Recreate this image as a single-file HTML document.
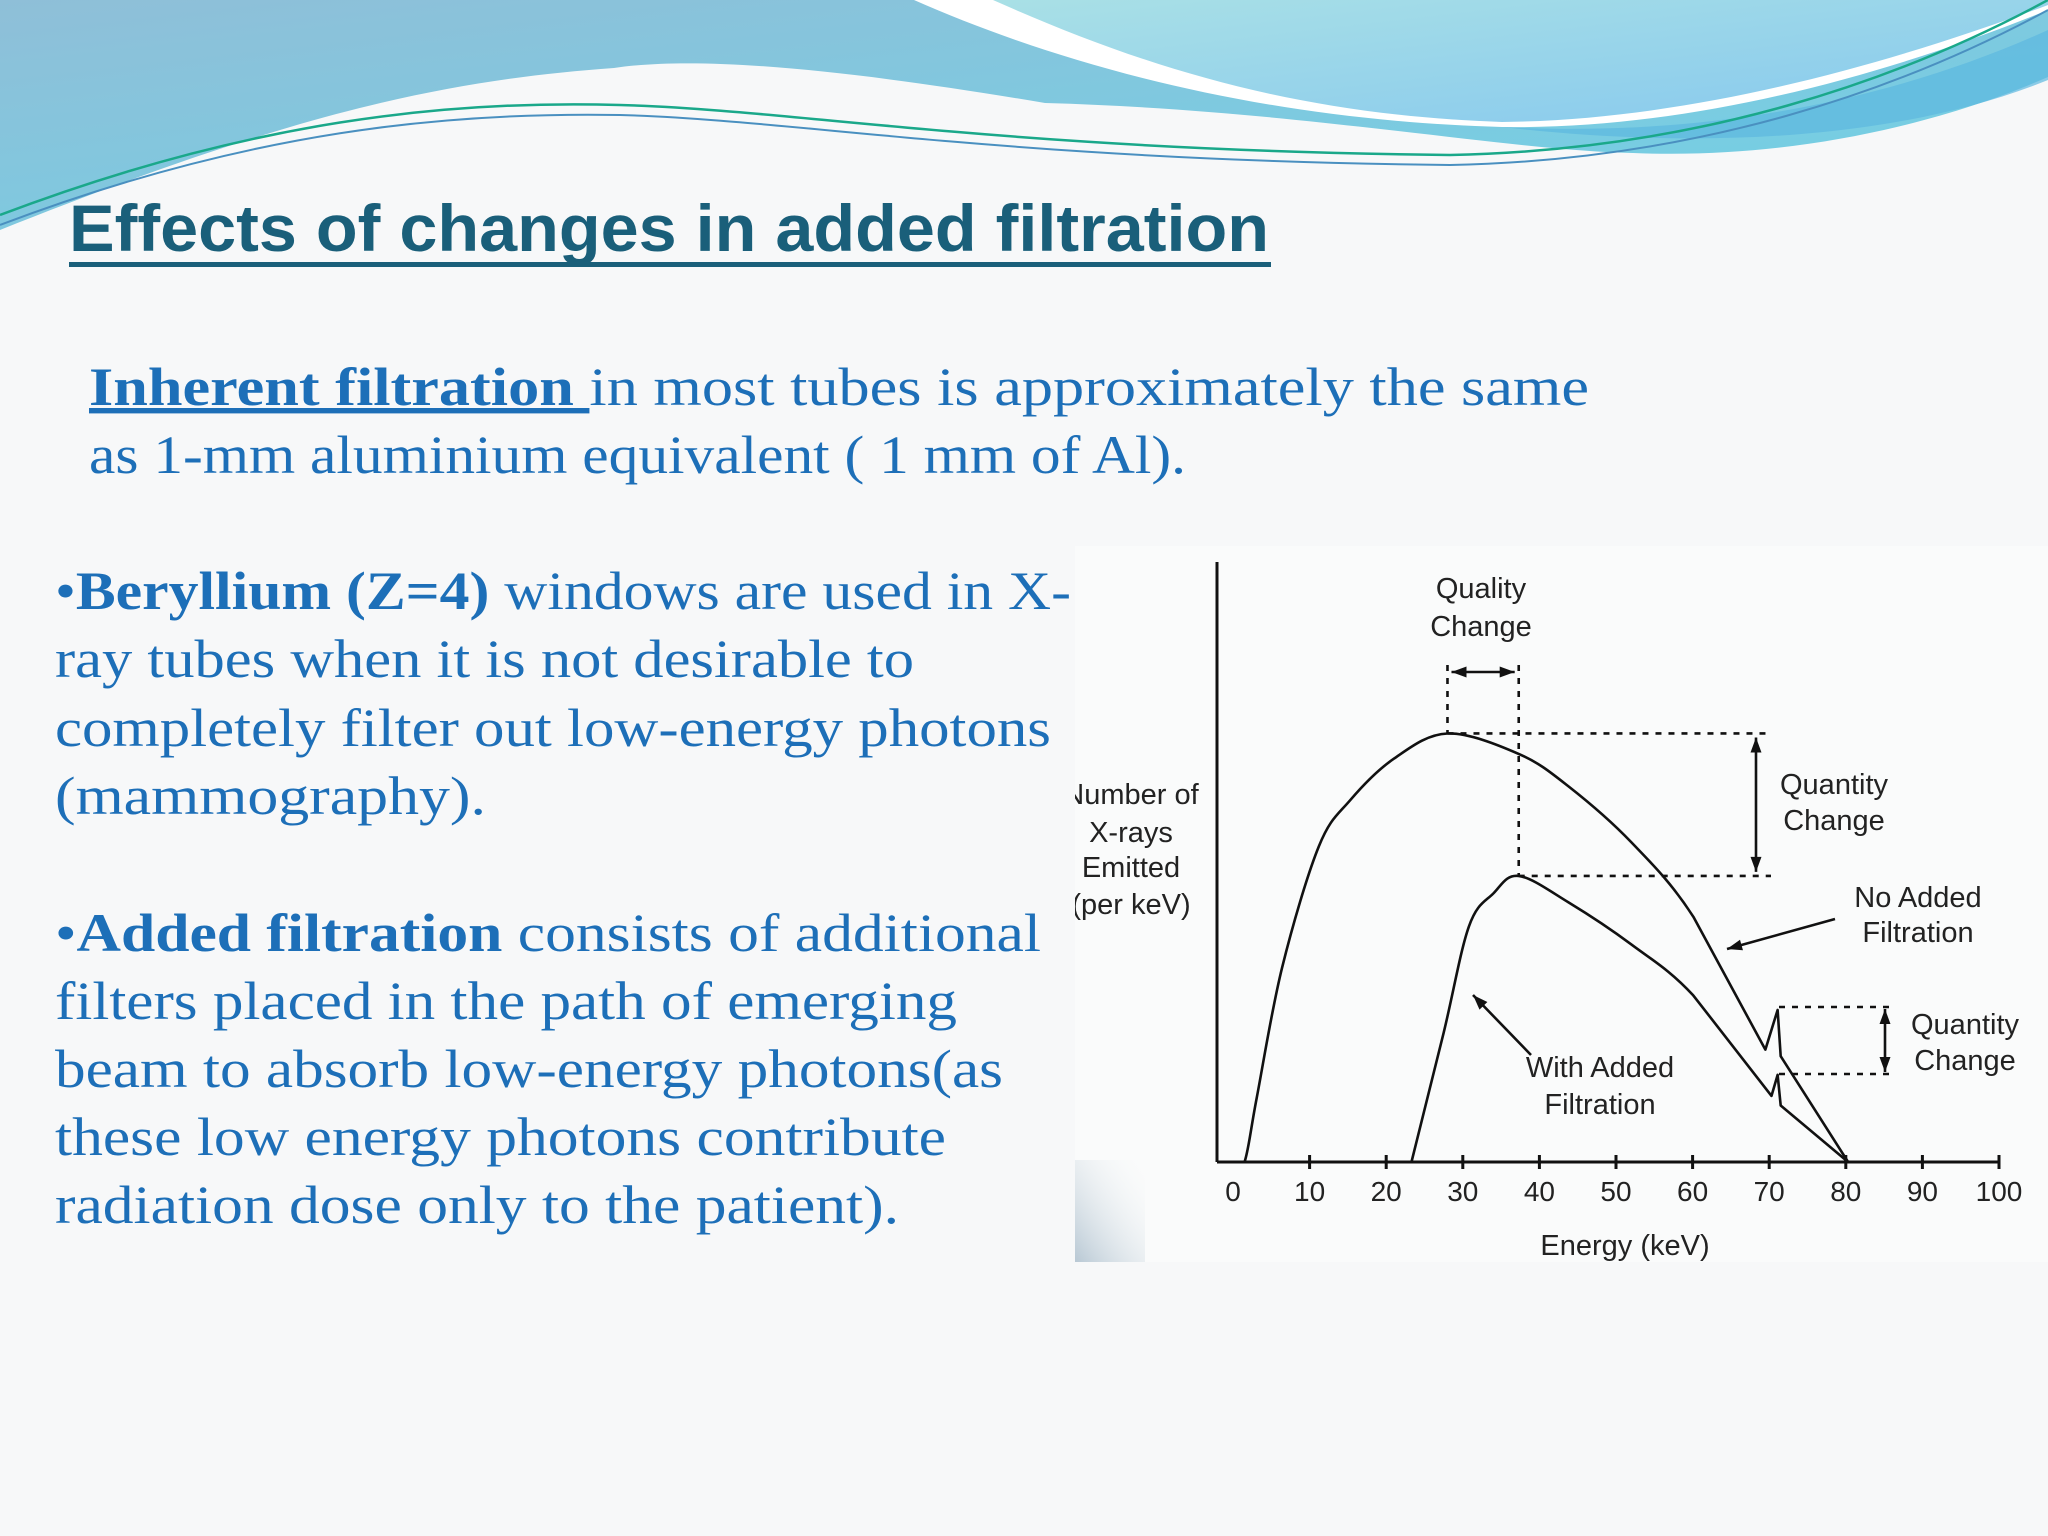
<!DOCTYPE html>
<html><head><meta charset="utf-8"><style>
html,body{margin:0;padding:0;background:#f7f8f9;}
svg{display:block}
</style></head><body>
<svg id="page" width="2048" height="1536" viewBox="0 0 2048 1536" xmlns="http://www.w3.org/2000/svg">
<defs>
<linearGradient id="bandA" x1="0" y1="0" x2="1" y2="1"><stop offset="0" stop-color="#8fbfd8"/><stop offset="1" stop-color="#6fd2e6"/></linearGradient>
<linearGradient id="bandB" x1="0" y1="0" x2="1" y2="1"><stop offset="0" stop-color="#a9e0e6"/><stop offset="1" stop-color="#86c8ee"/></linearGradient>
<linearGradient id="corner" x1="0" y1="1" x2="1" y2="0"><stop offset="0" stop-color="#b8c8d4"/><stop offset="1" stop-color="#fafbfb" stop-opacity="0"/></linearGradient>
<clipPath id="chartClip"><rect x="1075" y="546" width="973" height="716"/></clipPath>
</defs>
<rect width="2048" height="1536" fill="#f7f8f9"/>
<g>
<path d="M0,0 L2048,0 L2048,77 C1950,120 1800,160 1633,153 C1500,150 1300,110 1045,103 C850,70 700,55 614,68 C450,80 300,110 0,230 Z" fill="url(#bandA)"/>
<path d="M914,0 C1050,60 1250,120 1502,127 C1700,130 1900,70 2048,10 L2048,0 Z" fill="#ffffff"/>
<path d="M993,0 C1150,70 1300,115 1502,122 C1700,120 1900,60 2048,5 L2048,0 Z" fill="url(#bandB)"/>
<path d="M1502,127 C1650,135 1850,120 2048,30 L2048,80 C1900,140 1700,150 1502,127 Z" fill="#5cb8e0" opacity="0.7"/>
<path d="M0,215 C250,120 450,100 620,105 C800,110 1000,150 1450,155 C1700,150 1900,80 2048,0" fill="none" stroke="#1aa88a" stroke-width="2.5"/>
<path d="M0,225 C250,130 450,112 620,115 C800,120 1000,160 1450,165 C1700,160 1900,90 2048,10" fill="none" stroke="#4a90c0" stroke-width="2"/>
</g>
<text x="69" y="251" font-family="Liberation Sans, sans-serif" font-weight="bold" font-size="66" fill="#1a5f7a" textLength="1200" lengthAdjust="spacingAndGlyphs">Effects of changes in added filtration</text>
<rect x="69" y="262" width="1202" height="5" fill="#1a5f7a"/>
<g font-family="Liberation Serif, serif" font-size="54" fill="#1d6fb8">
<text x="89" y="405" textLength="1500" lengthAdjust="spacingAndGlyphs"><tspan font-weight="bold" text-decoration="underline">Inherent filtration  </tspan>in most tubes is approximately the same</text>
<text x="89" y="473" textLength="1097" lengthAdjust="spacingAndGlyphs">as 1-mm aluminium equivalent ( 1 mm of Al).</text>
<text x="55" y="609" textLength="1016" lengthAdjust="spacingAndGlyphs">•<tspan font-weight="bold">Beryllium (Z=4)</tspan> windows are used in X-</text>
<text x="55" y="677" textLength="859" lengthAdjust="spacingAndGlyphs">ray tubes when it is not desirable to</text>
<text x="55" y="746" textLength="996" lengthAdjust="spacingAndGlyphs">completely filter out low-energy photons</text>
<text x="55" y="814" textLength="431" lengthAdjust="spacingAndGlyphs">(mammography).</text>
<text x="55" y="951" textLength="986" lengthAdjust="spacingAndGlyphs">•<tspan font-weight="bold">Added filtration</tspan> consists of additional</text>
<text x="55" y="1019" textLength="902" lengthAdjust="spacingAndGlyphs">filters placed in the path of emerging</text>
<text x="55" y="1087" textLength="948" lengthAdjust="spacingAndGlyphs">beam to absorb low-energy photons(as</text>
<text x="55" y="1155" textLength="891" lengthAdjust="spacingAndGlyphs">these low energy photons contribute</text>
<text x="55" y="1223" textLength="844" lengthAdjust="spacingAndGlyphs">radiation dose only to the patient).</text>
</g>
<g id="chart" font-family="Liberation Sans, sans-serif" fill="#222" clip-path="url(#chartClip)">
<rect x="1075" y="546" width="973" height="716" fill="#fafbfb"/>
<rect x="1075" y="1160" width="70" height="102" fill="url(#corner)"/>
</g>
</svg>
<script>
const energyTicks=[0,10,20,30,40,50,60,70,80,90,100];
const noFilterE=[0,1.5,3.1,6.4,11.2,15.3,21,28,37.3,43.8,52,60.1,69.5,71.1,71.5,80.3];
const noFilterV=[0,0,10.7,32.3,52.5,60.2,67.1,71.3,67.9,62.5,53.2,40.8,18.7,25.3,17.6,0];
const withFilterE=[23.3,27.5,30.8,34,37.3,43.8,52,60.1,70.3,71.1,71.5,80.3];
const withFilterV=[0,21.5,39.2,44.7,47.6,43.2,36.2,27.7,11,14.5,9.4,0];
const NS='http://www.w3.org/2000/svg';
const chart=document.getElementById('chart');
function xs(e){return 1233+e*7.66;}
function ys(v){return 1162-v*6.01;}
function mk(tag,attrs,parent){const el=document.createElementNS(NS,tag);for(const k in attrs)el.setAttribute(k,attrs[k]);(parent||chart).appendChild(el);return el;}
function smoothPath(E,V){
  const p=E.map((e,i)=>[xs(e),ys(V[i])]);
  let d='M'+p[0][0]+','+p[0][1];
  for(let i=0;i<p.length-1;i++){
    const p0=p[Math.max(i-1,0)],p1=p[i],p2=p[i+1],p3=p[Math.min(i+2,p.length-1)];
    const sharp=(i>=p.length-5)||i===0;
    if(sharp){d+=' L'+p2[0]+','+p2[1];continue;}
    const c1=[p1[0]+(p2[0]-p0[0])/6,p1[1]+(p2[1]-p0[1])/6];
    const c2=[p2[0]-(p3[0]-p1[0])/6,p2[1]-(p3[1]-p1[1])/6];
    d+=' C'+c1[0]+','+c1[1]+' '+c2[0]+','+c2[1]+' '+p2[0]+','+p2[1];
  }
  return d;
}
let el=mk('line',{x1:1217,y1:562,x2:1217,y2:1162,stroke:'#111','stroke-width':3});


el=mk('line',{x1:1217,y1:1162,x2:1999,y2:1162,stroke:'#111','stroke-width':3});


energyTicks.forEach(t=>{
  if(t>0){const tk=mk('line',{x1:xs(t),y1:1155,x2:xs(t),y2:1169,stroke:'#111','stroke-width':3});
  
  }
  const lb=mk('text',{x:xs(t),y:1201,'font-size':28,'text-anchor':'middle'});
  lb.textContent=t;
  
  
});
el=mk('text',{x:1625,y:1255,'font-size':29,'text-anchor':'middle'});el.textContent='Energy (keV)';


['Number of','X-rays','Emitted','(per keV)'].forEach((s,i)=>{
  const t=mk('text',{x:1131,y:[804,842,877,914][i],'font-size':29,'text-anchor':'middle'});t.textContent=s;
  
  
});
el=mk('path',{d:smoothPath(noFilterE,noFilterV),fill:'none',stroke:'#111','stroke-width':2.6,'stroke-linejoin':'round'});


el=mk('path',{d:smoothPath(withFilterE,withFilterV),fill:'none',stroke:'#111','stroke-width':2.6,'stroke-linejoin':'round'});


function peak(E,V){let m=0;V.forEach((v,i)=>{if(v>V[m])m=i;});return [E[m],V[m]];}
const pk1=peak(noFilterE,noFilterV),pk2=peak(withFilterE,withFilterV);
const dash={stroke:'#111','stroke-width':2.6,'stroke-dasharray':'6,7',fill:'none'};
function dl(x1,y1,x2,y2,name){const l=mk('line',Object.assign({x1,y1,x2,y2},dash));}
dl(xs(pk1[0]),665,xs(pk1[0]),ys(pk1[1]),'quality-dash-left');
dl(xs(pk2[0]),665,xs(pk2[0]),ys(pk2[1]),'quality-dash-right');
dl(xs(pk1[0]),ys(pk1[1]),1771,ys(pk1[1]),'quantity-dash-top');
dl(xs(pk2[0]),ys(pk2[1]),1771,ys(pk2[1]),'quantity-dash-bottom');
dl(1779,1007,1894,1007,'k-edge-dash-top');
dl(1779,1074,1890,1074,'k-edge-dash-bottom');
function arrow(x1,y1,x2,y2,both,name){
  const g=mk('g',{});
  
  
  mk('line',{x1,y1,x2,y2,stroke:'#111','stroke-width':2.6},g);
  const head=(ax,ay,bx,by)=>{const a=Math.atan2(by-ay,bx-ax),L=16,w=0.35;
    mk('polygon',{points:`${bx},${by} ${bx-L*Math.cos(a-w)},${by-L*Math.sin(a-w)} ${bx-L*Math.cos(a+w)},${by-L*Math.sin(a+w)}`,fill:'#111'},g);};
  head(x1,y1,x2,y2); if(both)head(x2,y2,x1,y1);
}
arrow(xs(pk1[0])+4,672,xs(pk2[0])-4,672,true,'quality-change-arrow');
arrow(1756,ys(pk1[1])+4,1756,ys(pk2[1])-4,true,'quantity-change-arrow');
arrow(1885,1009,1885,1072,true,'k-edge-quantity-arrow');
arrow(1835,919,1727,949,false,'no-filter-pointer');
arrow(1531,1055,1473,995,false,'with-filter-pointer');
function lbl(lines,cx,ys_,name){lines.forEach((s,i)=>{const t=mk('text',{x:cx,y:ys_[i],'font-size':29,'text-anchor':'middle'});t.textContent=s;
  
  });}
lbl(['Quality','Change'],1481,[598,636],'quality-change-label');
lbl(['Quantity','Change'],1834,[794,830],'quantity-change-label');
lbl(['No Added','Filtration'],1918,[907,942],'no-added-filtration-label');
lbl(['With Added','Filtration'],1600,[1077,1114],'with-added-filtration-label');
lbl(['Quantity','Change'],1965,[1034,1070],'k-edge-quantity-label');
</script>
</body></html>
